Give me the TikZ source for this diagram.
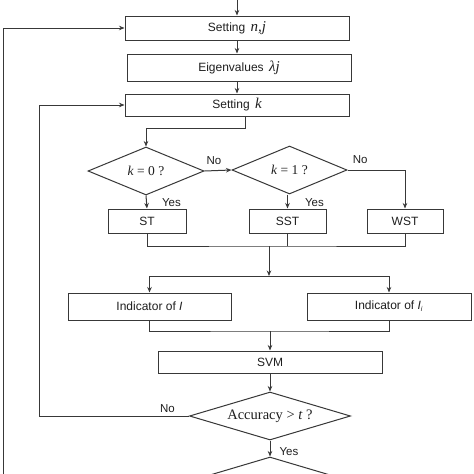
\documentclass[tikz,border=0pt]{standalone}
\usepackage{fontspec}
\setmainfont{Liberation Sans}
\newfontfamily\seriffam{Liberation Serif}
\usetikzlibrary{shapes.geometric,arrows.meta}
\tikzset{
  ln/.style={draw=black!78, line width=1pt},
  arr/.style={ln, -{Stealth[length=5.5pt,width=4.5pt]}},
  box/.style={ln, rectangle, inner sep=0pt, font=\fontsize{12}{14}\selectfont, text=black!88},
  dia/.style={ln, diamond, inner sep=0pt, font=\seriffam\fontsize{13.5}{15}\selectfont, text=black!88},
  lab/.style={font=\fontsize{11.5}{13}\selectfont, text=black!88, inner sep=0pt}
}
\newcommand{\vi}[1]{{\seriffam\itshape\fontsize{15}{16}\selectfont #1}}
\begin{document}
\begin{tikzpicture}[x=1pt,y=-1pt]
\useasboundingbox (0,0) rectangle (474,474);
\clip (0,0) rectangle (474,474);
\fill[white] (0,0) rectangle (474,474);

\node[box, minimum width=224, minimum height=24] (b1) at (237,28) {Setting \,\vi{n,j}};
\node[box, minimum width=224, minimum height=27] (b2) at (239,67.5) {Eigenvalues \,\vi{λj}};
\node[box, minimum width=224, minimum height=22] (b3) at (237,105) {Setting \,\vi{k}};

\node[dia, aspect=2.42, minimum width=116, minimum height=48] (d1) at (146,171) {\textit{k} = 0 ?};
\node[dia, aspect=2.4, minimum width=115, minimum height=48] (d2) at (289.5,170) {\textit{k} = 1 ?};

\node[box, minimum width=78, minimum height=24] (st) at (147,221) {ST};
\node[box, minimum width=77, minimum height=24] (sst) at (287.5,221) {SST};
\node[box, minimum width=76, minimum height=24] (wst) at (405,221) {WST};

\node[box, minimum width=163, minimum height=27] (i1) at (149.5,306.5) {Indicator of \textit{I}};
\node[box, minimum width=164, minimum height=27] (i2) at (389,306.5) {Indicator of \textit{I}$_{\textit{\scriptsize i}}$};

\node[box, minimum width=224, minimum height=22] (svm) at (270,362) {SVM};
\node[dia, aspect=3.35, minimum width=161, minimum height=48, font=\seriffam\fontsize{14.5}{16}\selectfont] (d3) at (270,416) {Accuracy > \textit{t} ?};
\node[dia, aspect=3.35, minimum width=161, minimum height=48] (d4) at (270,481) {};

\coordinate (top) at (237,-2);
\coordinate (j1) at (269,246);
\coordinate (j2) at (269,276);
\coordinate (j3) at (270,331);
\coordinate (loopk) at (39,416);
\coordinate (loopn) at (3,520);

\draw[arr] (top) -- (b1.north);
\draw[arr] (b1.south) -- (b1.south |- b2.north);
\draw[arr] (b2.south -| b3.north) -- (b3.north);
\draw[arr] ([xshift=8pt]b3.south) -- ++(0,12) -| (d1.north);

\draw[arr] (d1.east) -- (d2.west) node[lab, pos=0.35, above=6pt] {No};
\draw[arr] (d2.east) -| (wst.north) node[lab, pos=0.11, above=6pt] {No};
\draw[arr] (d1.south) -- (st.north) node[lab, midway, right=15pt, yshift=-1pt] {Yes};
\draw[arr] (d2.south -| sst.north) -- (sst.north) node[lab, midway, right=17pt, yshift=-1pt] {Yes};

\draw[ln] (st.south) |- (j1) -| (wst.south);
\draw[ln] (sst.south) -- (sst.south |- j1);
\draw[arr] (j1) -- (j2);
\draw[arr] (j2) -| (i1.north);
\draw[arr] (j2) -| (i2.north);

\draw[ln] (i1.south) |- (j3) -| (i2.south);
\draw[arr] (j3) -- (svm.north);
\draw[arr] (svm.south) -- (d3.north);

\draw[arr] (d3.west) -- (loopk) |- (b3.west);
\node[lab, anchor=south east] (no3) at ([xshift=-14pt,yshift=3pt]d3.west) {No};
\draw[arr] (d3.south) -- (d4.north) node[lab, midway, right=9pt, yshift=-3pt] {Yes};
\node[lab, anchor=south east] (no4) at ([xshift=-11pt,yshift=-2pt]d4.west) {No};

\draw[arr] (loopn) |- (b1.west);
\end{tikzpicture}
\end{document}
